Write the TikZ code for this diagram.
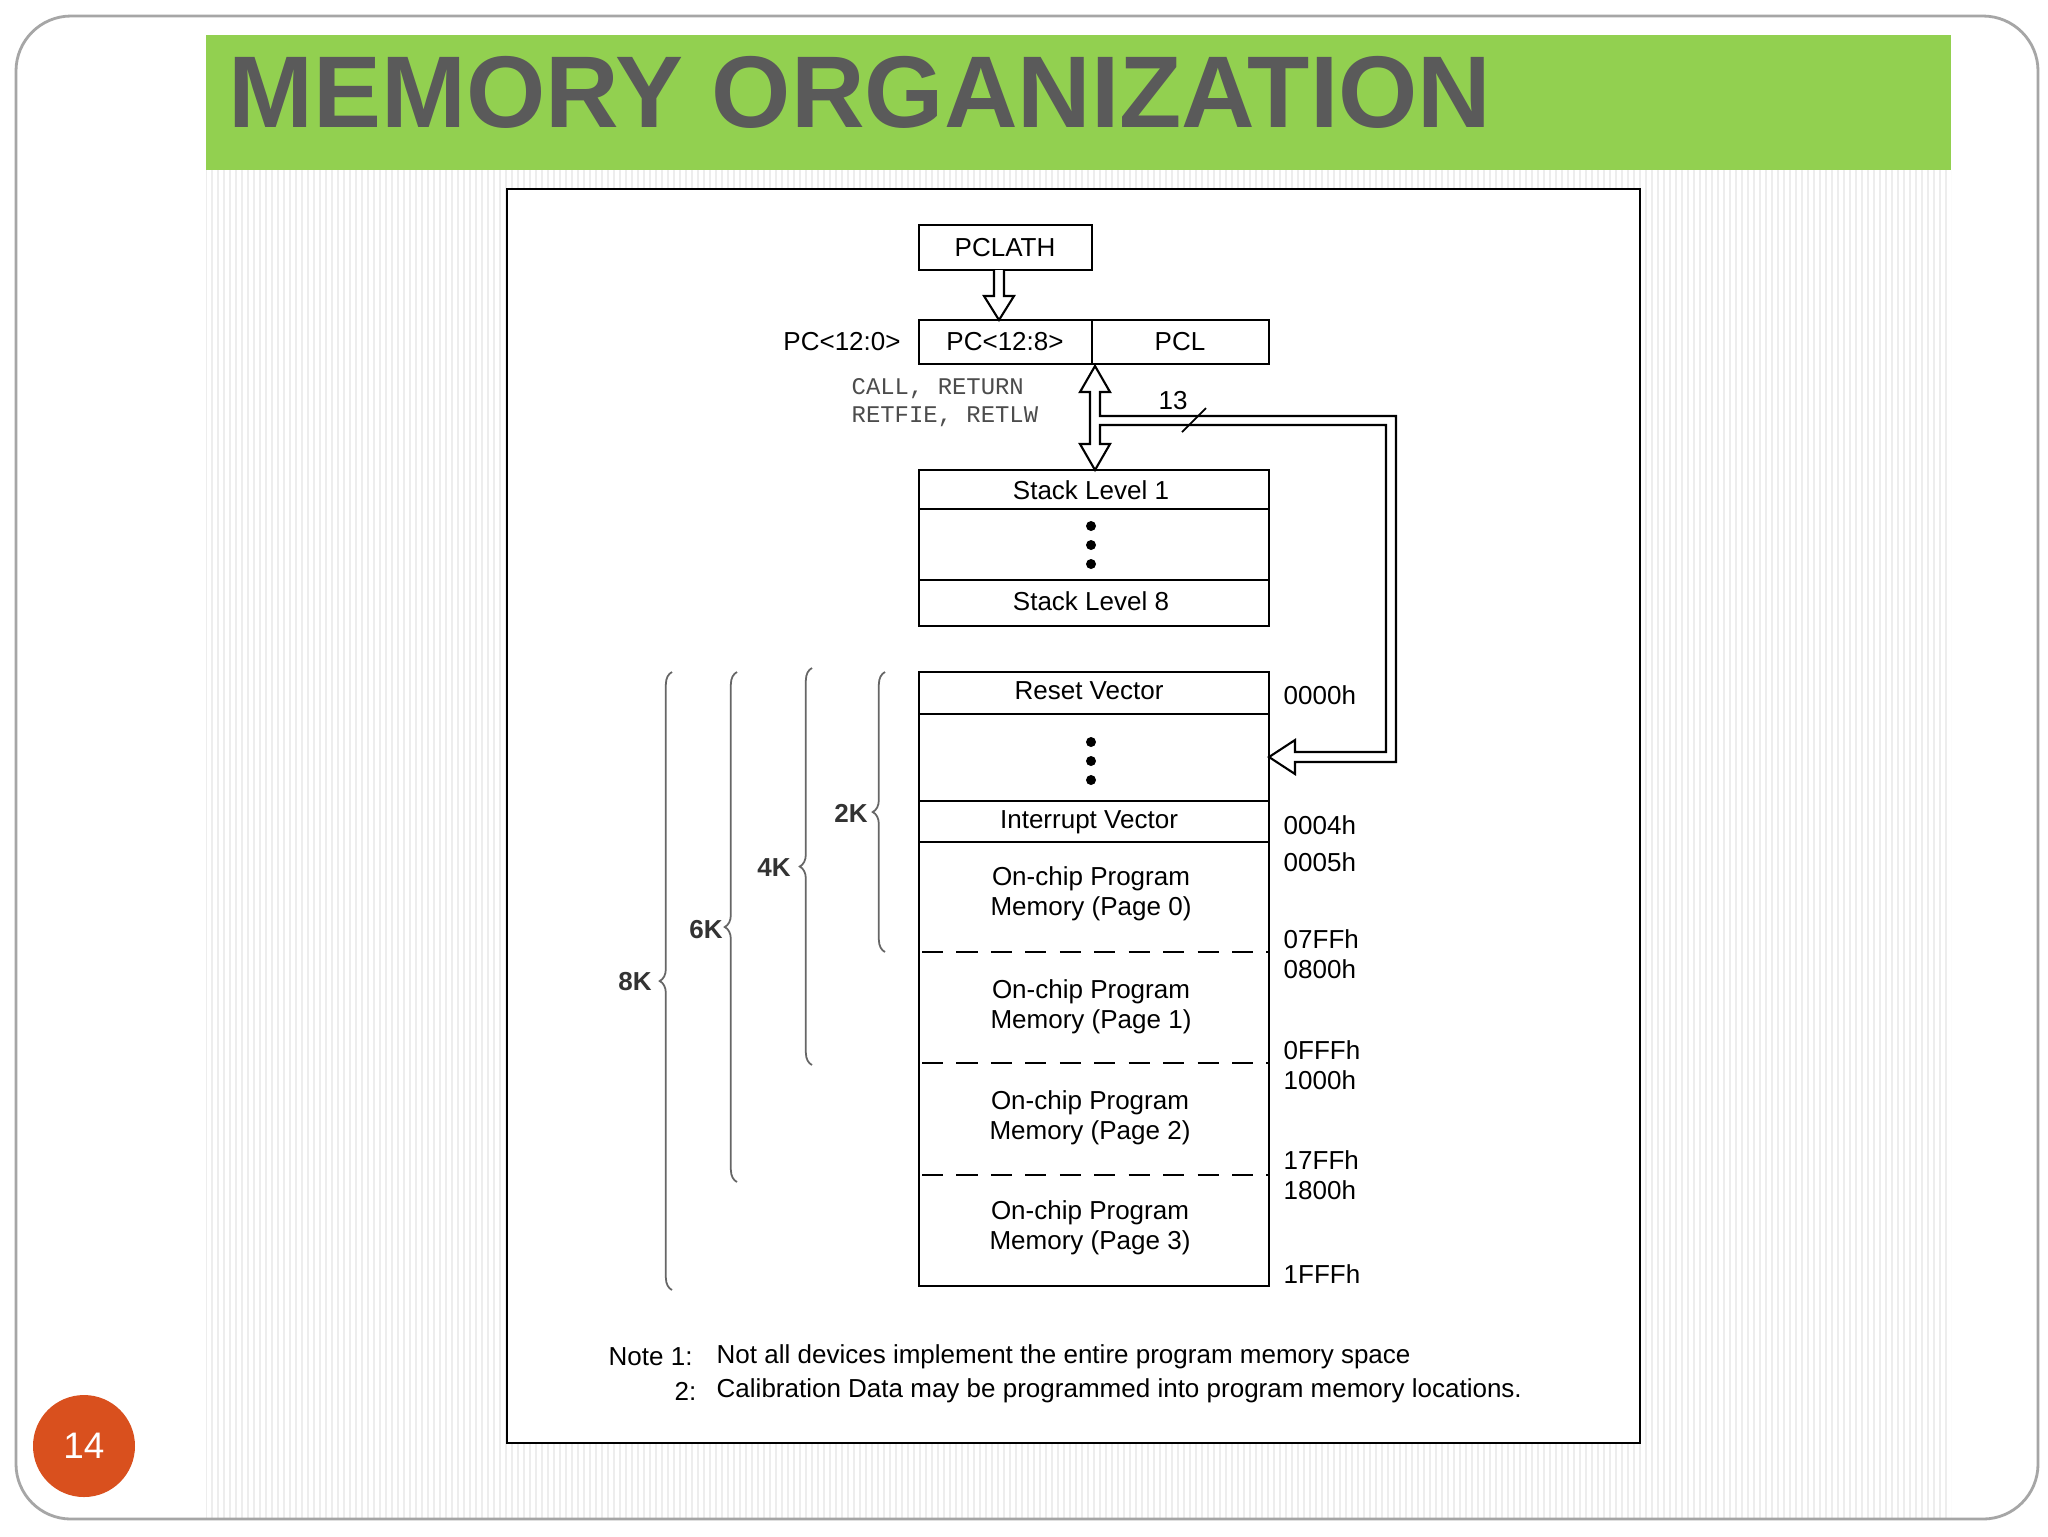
\documentclass[tikz,border=0pt]{standalone}
\usepackage{fontspec}
\setmainfont{Liberation Sans}
\newfontfamily\monof{Liberation Mono}
\usetikzlibrary{decorations.pathreplacing}
\definecolor{bannergreen}{HTML}{92D050}
\definecolor{titlegray}{HTML}{5A5A5A}
\definecolor{numred}{HTML}{D9501E}
\tikzset{
  lbl/.style={font=\fontsize{7.4pt}{8.4pt}\selectfont, inner sep=0pt, align=center},
  addr/.style={font=\fontsize{7.4pt}{8.4pt}\selectfont, inner sep=0pt, anchor=west},
  boxline/.style={draw=black, line width=0.6pt},
  kbrace/.style={decorate, decoration={brace, amplitude=3.5pt}, draw=gray!80!black, line width=0.5pt},
  klbl/.style={font=\fontsize{7.4pt}{8.4pt}\selectfont\bfseries, inner sep=0pt, text=black!80}
}
\begin{document}
\begin{tikzpicture}[x=0.1mm, y=-0.1mm]
\useasboundingbox (0,0) rectangle (2048,1536);
\fill[white] (0,0) rectangle (2048,1536);
% stripes
\begin{scope}
\clip (206,170) rectangle (1951,1519);
\foreach \i in {0,...,292} {\draw[gray!14, line width=0.4pt] (206+6*\i,170) -- (206+6*\i,1519);}
\end{scope}
% outer frame
\draw[gray!70, line width=0.8pt, rounded corners=5.5mm] (16,16) rectangle (2038,1519);
% banner
\fill[bannergreen] (206,35) rectangle (1951,170);
\node[anchor=west, inner sep=0pt, text=titlegray, font=\fontsize{29pt}{32pt}\selectfont\bfseries] (title) at (228,92) {MEMORY ORGANIZATION};
% slide number
\node[circle, fill=numred, minimum size=10.2mm, inner sep=0pt, text=white, font=\fontsize{10.5pt}{12pt}\selectfont] (num) at (84,1446) {14};
% diagram box
\draw[fill=white, line width=0.8pt] (507,189) rectangle (1640,1443);

% PCLATH
\draw[boxline] (919,225) rectangle (1092,270);
\node[lbl] (pclath) at (1005,248) {PCLATH};
% PC register
\draw[boxline] (919,320) rectangle (1269,364);
\draw[boxline] (1092,320) -- (1092,364);
\node[lbl] (pchi) at (1005,342) {PC<12:8>};
\node[lbl] (pcl) at (1180,342) {PCL};
\node[lbl] (pcall) at (842,342) {PC<12:0>};
% arrow PCLATH -> PC
\draw[line width=0.6pt, fill=white] (994,270) -- (994,296) -- (984,296) -- (999,320) -- (1014,296) -- (1004,296) -- (1004,270);
% bus arrow
\draw[line width=0.6pt, fill=white] (1090,392) -- (1090,444) -- (1080,444) -- (1095,470) -- (1110,444) -- (1100,444) -- (1100,425) -- (1386,425) -- (1386,752) -- (1295,752) -- (1295,740) -- (1269,757) -- (1295,774) -- (1295,762) -- (1396,762) -- (1396,416) -- (1100,416) -- (1100,392) -- (1110,392) -- (1095,366) -- (1080,392) -- cycle;
\node[lbl, anchor=west, font=\monof\fontsize{6.8pt}{8pt}\selectfont, text=black!70, align=left] (calls) at (851,403) {CALL, RETURN\\RETFIE, RETLW};
\node[lbl] (thirteen) at (1173,401) {13};
\draw[line width=0.5pt] (1182,432) -- (1206,408);

% stack
\draw[boxline] (919,470) rectangle (1269,626);
\draw[boxline] (919,509) -- (1269,509);
\draw[boxline] (919,580) -- (1269,580);
\node[lbl] (s1) at (1091,490) {Stack Level 1};
\node[lbl] (s8) at (1091,601) {Stack Level 8};
\foreach \y in {526,545,564} \fill (1091,\y) circle (5);

% memory map
\draw[boxline] (919,672) rectangle (1269,1286);
\draw[boxline] (919,714) -- (1269,714);
\draw[boxline] (919,801) -- (1269,801);
\draw[boxline] (919,842) -- (1269,842);
\foreach \y in {952,1063,1175} \draw[line width=0.7pt, dash pattern=on 6pt off 3.8pt] (922,\y) -- (1269,\y);
\foreach \y in {742,761,780} \fill (1091,\y) circle (5);
\node[lbl] (rv) at (1089,691) {Reset Vector};
\node[lbl] (iv) at (1089,822) {Interrupt Vector};
\node[lbl] (p0) at (1091,894) {On-chip Program\\Memory (Page 0)};
\node[lbl] (p1) at (1091,1007) {On-chip Program\\Memory (Page 1)};
\node[lbl] (p2) at (1090,1118) {On-chip Program\\Memory (Page 2)};
\node[lbl] (p3) at (1090,1228) {On-chip Program\\Memory (Page 3)};
% addresses
\node[addr] (a0) at (1283,695) {0000h};
\node[addr] (a4) at (1283,825) {0004h};
\node[addr] (a5) at (1283,862) {0005h};
\node[addr] (a7) at (1283,939) {07FFh};
\node[addr] (a8) at (1283,969) {0800h};
\node[addr] (af) at (1283,1050) {0FFFh};
\node[addr] (a10) at (1283,1080) {1000h};
\node[addr] (a17) at (1283,1160) {17FFh};
\node[addr] (a18) at (1283,1190) {1800h};
\node[addr] (a1f) at (1283,1274) {1FFFh};
% braces
\draw[kbrace] (885,952) -- (885,672);
\node[klbl] (k2) at (851,813) {2K};
\draw[kbrace] (812,1065) -- (812,668);
\node[klbl] (k4) at (774,868) {4K};
\draw[kbrace] (737,1182) -- (737,672);
\node[klbl] (k6) at (706,930) {6K};
\draw[kbrace] (672,1290) -- (672,672);
\node[klbl] (k8) at (635,982) {8K};

% notes
\node[addr] (n1) at (608,1357) {Note 1:};
\node[addr] (n1t) at (716,1357) {Not all devices implement the entire program memory space};
\node[addr, anchor=east] (n2) at (697,1391) {2:};
\node[addr] (n2t) at (716,1391) {Calibration Data may be programmed into program memory locations.};
\end{tikzpicture}
\end{document}
